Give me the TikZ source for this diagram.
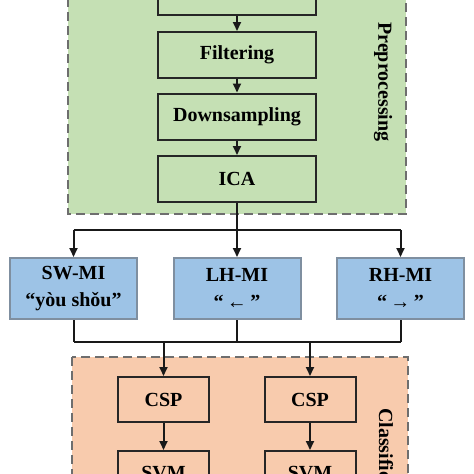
\documentclass[tikz,border=0pt]{standalone}
\usepackage{fontspec}
\setmainfont{Liberation Serif}
\usetikzlibrary{arrows.meta}
\definecolor{prefill}{HTML}{C5E0B4}
\definecolor{mifill}{HTML}{9DC3E6}
\definecolor{clsfill}{HTML}{F8CBAD}
\definecolor{miborder}{HTML}{7F8FA0}
\definecolor{regionborder}{HTML}{6E6E6E}
\tikzset{
  region/.style={draw=regionborder, line width=1.6pt, dash pattern=on 9pt off 5pt},
  mainbox/.style={draw=black!85, line width=2pt, minimum width=158pt, minimum height=46pt, inner sep=0pt,
    font=\bfseries\fontsize{20}{27}\selectfont},
  mibox/.style={draw=miborder, fill=mifill, line width=2pt, minimum width=127pt, minimum height=61pt, inner sep=0pt,
    align=center, font=\bfseries\fontsize{20}{27}\selectfont},
  clsbox/.style={draw=black!85, line width=2pt, minimum width=91pt, minimum height=45pt, inner sep=0pt,
    font=\bfseries\fontsize{20}{27}\selectfont},
  sidelabel/.style={rotate=-90, inner sep=0pt, font=\bfseries\fontsize{20}{24}\selectfont},
  conn/.style={line width=2pt, black!90},
  arr/.style={conn, -{Triangle[width=8pt,length=9pt]}}
}
\begin{document}
\begin{tikzpicture}[x=1pt,y=-1pt]
\useasboundingbox (0,0) rectangle (474,474);
\clip (0,0) rectangle (474,474);
\fill[white] (0,0) rectangle (474,474);
% regions
\draw[region, fill=prefill] (68,-30) rectangle (406,214);
\draw[region, fill=clsfill] (72,357) rectangle (408,520);
\node[sidelabel] (prelbl) at (383,82) {Preprocessing};
\node[sidelabel, anchor=west] (clslbl) at (386,408) {Classification};
% preprocessing chain
\node[mainbox, fill=prefill] (top) at (237,-8) {};
\node[mainbox, fill=prefill] (filt) at (237,55) {Filtering};
\node[mainbox, fill=prefill] (down) at (237,116.5) {Downsampling};
\node[mainbox, fill=prefill] (ica) at (237,179) {ICA};
\draw[arr] (top) -- (filt);
\draw[arr] (filt) -- (down);
\draw[arr] (down) -- (ica);
% MI boxes
\node[mibox] (sw) at (73.5,288.5) {SW-MI\\“yòu shǒu”};
\node[mibox] (lh) at (237,288.5) {LH-MI\\“\,←\,”};
\node[mibox] (rh) at (400.5,288.5) {RH-MI\\“\,→\,”};
\coordinate (split) at (237,230);
\draw[conn] (ica.south) -- (split);
\draw[conn] (split -| sw) -- (split -| rh);
\draw[arr] (split -| sw) -- (sw.north);
\draw[arr] (split) -- (lh.north);
\draw[arr] (split -| rh) -- (rh.north);
% merge
\coordinate (merge) at (237,342);
\draw[conn] (sw.south) -- (merge -| sw);
\draw[conn] (lh.south) -- (merge);
\draw[conn] (rh.south) -- (merge -| rh);
\draw[conn] (merge -| sw) -- (merge -| rh);
% classification
\node[clsbox, fill=clsfill] (csp1) at (163.5,399.5) {CSP};
\node[clsbox, fill=clsfill] (csp2) at (310,399.5) {CSP};
\node[clsbox, fill=clsfill] (svm1) at (163.5,473.5) {SVM};
\node[clsbox, fill=clsfill] (svm2) at (310,473.5) {SVM};
\draw[arr] (merge -| csp1) -- (csp1.north);
\draw[arr] (merge -| csp2) -- (csp2.north);
\draw[arr] (csp1) -- (svm1);
\draw[arr] (csp2) -- (svm2);
\end{tikzpicture}
\end{document}
